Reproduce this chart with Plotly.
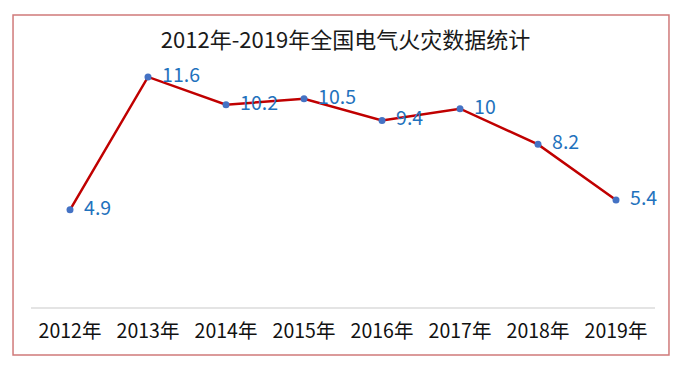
import plotly.graph_objects as go

years = ["2012年", "2013年", "2014年", "2015年", "2016年", "2017年", "2018年", "2019年"]
values = [4.9, 11.6, 10.2, 10.5, 9.4, 10, 8.2, 5.4]
labels = ["4.9", "11.6", "10.2", "10.5", "9.4", "10", "8.2", "5.4"]
title_text = "2012年-2019年全国电气火灾数据统计"

FONT = "Noto Sans CJK SC"

fig = go.Figure()
fig.add_trace(go.Scatter(
    x=years, y=values, mode="lines+markers+text",
    text=labels, texttemplate="  %{text}", textposition="middle right",
    textfont=dict(family=FONT, size=19.5, color="#1F72BD"),
    line=dict(color="#C00000", width=2.5),
    marker=dict(color="#4472C4", size=7),
    cliponaxis=False, showlegend=False,
))

# page has an 8px body margin; figure is sized to fit the 683x373 window
fig.update_layout(
    width=675, height=365,
    margin=dict(l=23, r=28, t=61, b=66),
    paper_bgcolor="white", plot_bgcolor="white",
    title=dict(text=title_text, x=0.5, xanchor="center", y=0.912, yanchor="middle",
               font=dict(family=FONT, size=22, color="#1a1a1a")),
    xaxis=dict(showgrid=False, showline=True, linecolor="#e4e4e4", linewidth=1.5,
               ticks="", ticklabelstandoff=6,
               tickfont=dict(family=FONT, size=19.5, color="#111111"),
               range=[-0.5, 7.5], zeroline=False, fixedrange=True),
    yaxis=dict(visible=False, range=[0, 12], fixedrange=True),
    shapes=[dict(type="rect", xref="paper", yref="paper",
                 x0=-0.0288, x1=1.0224, y0=-0.2017, y1=1.227,
                 line=dict(color="#D07A7A", width=1.5))],
)

fig.write_html("out.html")
